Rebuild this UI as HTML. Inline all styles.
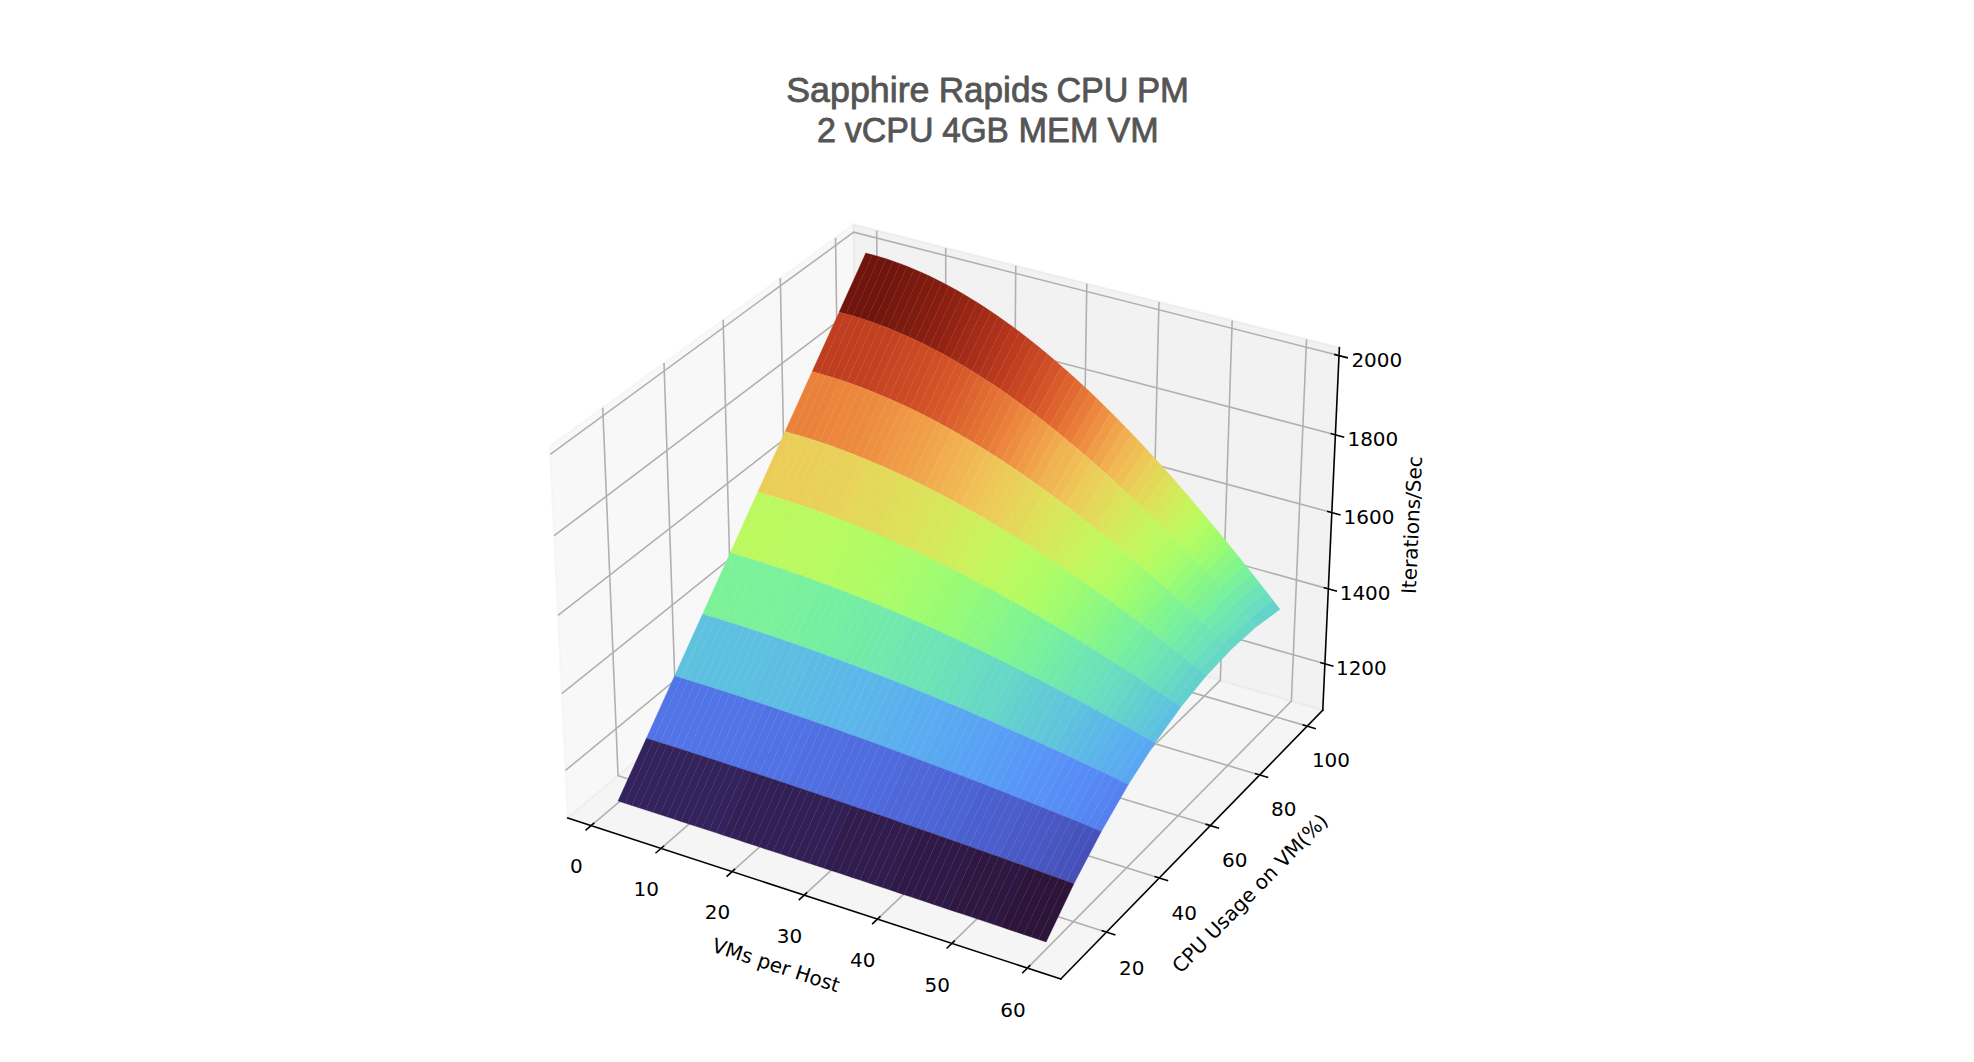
<!DOCTYPE html>
<html><head><meta charset="utf-8"><title>Sapphire Rapids CPU PM</title>
<style>html,body{margin:0;padding:0;background:#fff;overflow:hidden}svg{display:block}</style></head>
<body><svg width="1974" height="1062" viewBox="0 0 1974 1062">
<rect width="1974" height="1062" fill="#fff"/>
<g font-family="'Liberation Sans',sans-serif" font-size="35" fill="#555" stroke="#555" stroke-width="0.8" stroke-linejoin="round">
<text y="101.7"><tspan x="786.26" textLength="143.28" lengthAdjust="spacingAndGlyphs">Sapphire</tspan> <tspan x="938.79" textLength="109.16" lengthAdjust="spacingAndGlyphs">Rapids</tspan> <tspan x="1056.44" textLength="72.09" lengthAdjust="spacingAndGlyphs">CPU</tspan> <tspan x="1136.92" textLength="52.05" lengthAdjust="spacingAndGlyphs">PM</tspan></text>
<text y="141.8"><tspan x="816.95" textLength="18.98" lengthAdjust="spacingAndGlyphs">2</tspan> <tspan x="844.7" textLength="88.82" lengthAdjust="spacingAndGlyphs">vCPU</tspan> <tspan x="942.14" textLength="66.71" lengthAdjust="spacingAndGlyphs">4GB</tspan> <tspan x="1018.56" textLength="79.93" lengthAdjust="spacingAndGlyphs">MEM</tspan> <tspan x="1107.4" textLength="51.22" lengthAdjust="spacingAndGlyphs">VM</tspan></text></g>
<g id="panes">
<polygon points="567.76,817.95 857.64,574.97 853.61,224.55 549.86,446.21" fill="#f2f2f2" fill-opacity="0.5" stroke="#f2f2f2" stroke-opacity="0.5" stroke-width="1.98" stroke-linejoin="miter"/>
<polygon points="857.64,574.97 1322.78,710.17 1339.38,347.68 853.61,224.55" fill="#e6e6e6" fill-opacity="0.5" stroke="#e6e6e6" stroke-opacity="0.5" stroke-width="1.98" stroke-linejoin="miter"/>
<polygon points="567.76,817.95 1060.84,978.99 1322.78,710.17 857.64,574.97" fill="#ececec" fill-opacity="0.5" stroke="#ececec" stroke-opacity="0.5" stroke-width="1.98" stroke-linejoin="miter"/>
</g>
<g id="axl" stroke="#000" stroke-width="1.58" stroke-linecap="square" fill="none"><line x1="567.76" y1="817.95" x2="1060.84" y2="978.99"/><line x1="1322.78" y1="710.17" x2="1060.84" y2="978.99"/><line x1="1322.78" y1="710.17" x2="1339.38" y2="347.68"/></g>
<g id="grid" stroke="#b0b0b0" stroke-width="1.58" fill="none" stroke-linejoin="miter"><polyline points="591.15,825.59 879.8,581.41 876.7,230.4"/><polyline points="661.08,848.42 945.98,600.65 945.71,247.9"/><polyline points="732.08,871.61 1013.11,620.16 1015.74,265.65"/><polyline points="804.19,895.17 1081.19,639.95 1086.82,283.66"/><polyline points="877.43,919.09 1150.25,660.02 1158.95,301.95"/><polyline points="951.83,943.38 1220.3,680.38 1232.18,320.51"/><polyline points="1027.41,968.07 1291.38,701.04 1306.52,339.35"/><polyline points="602.74,407.62 618.07,775.78 1106.46,932.16"/><polyline points="663.99,362.92 676.42,726.87 1159.3,877.94"/><polyline points="723.14,319.76 732.86,679.56 1210.31,825.59"/><polyline points="780.3,278.05 787.47,633.78 1259.59,775.02"/><polyline points="835.56,237.72 840.35,589.46 1307.23,726.13"/><polyline points="1324.91,663.79 857.12,530.06 565.47,770.46"/><polyline points="1328.34,588.87 856.29,457.55 561.78,693.7"/><polyline points="1331.83,512.56 855.44,383.76 558.01,615.45"/><polyline points="1335.39,434.82 854.57,308.65 554.17,535.69"/><polyline points="1339.02,355.6 853.69,232.19 550.25,454.35"/></g>
<g id="ticks" stroke="#000" stroke-width="1.58" stroke-linecap="square"><line x1="593.67" y1="823.46" x2="586.11" y2="829.85"/><line x1="663.56" y1="846.27" x2="656.1" y2="852.75"/><line x1="734.53" y1="869.42" x2="727.17" y2="876.01"/><line x1="806.61" y1="892.94" x2="799.35" y2="899.63"/><line x1="879.81" y1="916.82" x2="872.66" y2="923.62"/><line x1="954.18" y1="941.09" x2="947.13" y2="947.99"/><line x1="1029.72" y1="965.74" x2="1022.79" y2="972.75"/><line x1="1102.35" y1="930.85" x2="1114.7" y2="934.8"/><line x1="1155.23" y1="876.67" x2="1167.44" y2="880.49"/><line x1="1206.3" y1="824.36" x2="1218.35" y2="828.05"/><line x1="1255.62" y1="773.83" x2="1267.53" y2="777.39"/><line x1="1303.31" y1="724.98" x2="1315.08" y2="728.43"/><line x1="1320.98" y1="662.67" x2="1332.77" y2="666.04"/><line x1="1324.37" y1="587.77" x2="1336.28" y2="591.08"/><line x1="1327.83" y1="511.48" x2="1339.85" y2="514.73"/><line x1="1331.35" y1="433.76" x2="1343.49" y2="436.94"/><line x1="1334.94" y1="354.56" x2="1347.19" y2="357.68"/></g>
<g id="txt" font-family="'DejaVu Sans','Liberation Sans',sans-serif" font-size="20" fill="#000" text-anchor="middle"><text transform="translate(775.66,966.52) rotate(18.09)" y="5.52">VMs per Host</text><text x="576.37" y="872.8">0</text><text x="646.34" y="895.92">10</text><text x="717.39" y="919.41">20</text><text x="789.55" y="943.26">30</text><text x="862.84" y="967.49">40</text><text x="937.29" y="992.1">50</text><text x="1012.94" y="1017.1">60</text><text transform="translate(1251.03,894.37) rotate(-45.74)" y="5.52">CPU Usage on VM(%)</text><text x="1131.83" y="974.66">20</text><text x="1184.24" y="919.96">40</text><text x="1234.84" y="867.15">60</text><text x="1283.72" y="816.12">80</text><text x="1330.97" y="766.81">100</text><text transform="translate(1413.32,525.16) rotate(-87.38)" y="5.52">Iterations/Sec</text><text x="1361.37" y="674.88">1200</text><text x="1365.13" y="600.05">1400</text><text x="1368.96" y="523.83">1600</text><text x="1372.86" y="446.18">1800</text><text x="1376.83" y="367.07">2000</text></g>
<g id="surf" stroke-width="0.3" stroke-linejoin="round"><polygon points="839,312.13 845.89,313.94 872.58,254.85 865.7,253.09" fill="#70150d" stroke="#70150d"/>
<polygon points="845.89,313.94 852.8,315.87 879.48,256.75 872.58,254.85" fill="#70150d" stroke="#70150d"/>
<polygon points="852.8,315.87 859.71,317.96 886.39,258.86 879.48,256.75" fill="#70150d" stroke="#70150d"/>
<polygon points="859.71,317.96 866.64,320.21 893.3,261.15 886.39,258.86" fill="#70150d" stroke="#70150d"/>
<polygon points="866.64,320.21 873.57,322.6 900.23,263.64 893.3,261.15" fill="#70150d" stroke="#70150d"/>
<polygon points="873.57,322.6 880.52,325.15 907.17,266.3 900.23,263.64" fill="#73170e" stroke="#73170e"/>
<polygon points="880.52,325.15 887.48,327.83 914.12,269.14 907.17,266.3" fill="#76180e" stroke="#76180e"/>
<polygon points="887.48,327.83 894.44,330.67 921.08,272.16 914.12,269.14" fill="#79190f" stroke="#79190f"/>
<polygon points="894.44,330.67 901.42,333.64 928.04,275.35 921.08,272.16" fill="#7c1a0f" stroke="#7c1a0f"/>
<polygon points="901.42,333.64 908.41,336.75 935.02,278.71 928.04,275.35" fill="#7f1c10" stroke="#7f1c10"/>
<polygon points="908.41,336.75 915.4,339.99 942,282.24 935.02,278.71" fill="#821d10" stroke="#821d10"/>
<polygon points="915.4,339.99 922.4,343.37 948.99,285.94 942,282.24" fill="#851e11" stroke="#851e11"/>
<polygon points="922.4,343.37 929.41,346.89 955.99,289.8 948.99,285.94" fill="#8b2012" stroke="#8b2012"/>
<polygon points="929.41,346.89 936.43,350.54 962.99,293.82 955.99,289.8" fill="#8e2112" stroke="#8e2112"/>
<polygon points="936.43,350.54 943.46,354.32 970,298 962.99,293.82" fill="#932414" stroke="#932414"/>
<polygon points="943.46,354.32 950.49,358.22 977.02,302.34 970,298" fill="#992615" stroke="#992615"/>
<polygon points="950.49,358.22 957.53,362.26 984.04,306.84 977.02,302.34" fill="#9e2916" stroke="#9e2916"/>
<polygon points="957.53,362.26 964.58,366.43 991.06,311.49 984.04,306.84" fill="#a32b17" stroke="#a32b17"/>
<polygon points="964.58,366.43 971.64,370.71 998.1,316.3 991.06,311.49" fill="#a82e18" stroke="#a82e18"/>
<polygon points="971.64,370.71 978.7,375.13 1005.13,321.26 998.1,316.3" fill="#ad311a" stroke="#ad311a"/>
<polygon points="978.7,375.13 985.76,379.66 1012.17,326.37 1005.13,321.26" fill="#b1341b" stroke="#b1341b"/>
<polygon points="985.76,379.66 992.83,384.32 1019.22,331.62 1012.17,326.37" fill="#b8381d" stroke="#b8381d"/>
<polygon points="992.83,384.32 999.91,389.1 1026.26,337.02 1019.22,331.62" fill="#bc3b1e" stroke="#bc3b1e"/>
<polygon points="999.91,389.1 1006.99,393.99 1033.32,342.57 1026.26,337.02" fill="#c14020" stroke="#c14020"/>
<polygon points="1006.99,393.99 1014.08,399.01 1040.37,348.25 1033.32,342.57" fill="#c74522" stroke="#c74522"/>
<polygon points="1014.08,399.01 1021.17,404.14 1047.43,354.08 1040.37,348.25" fill="#ca4824" stroke="#ca4824"/>
<polygon points="1021.17,404.14 1028.26,409.38 1054.48,360.04 1047.43,354.08" fill="#cf4e26" stroke="#cf4e26"/>
<polygon points="1028.26,409.38 1035.36,414.73 1061.54,366.14 1054.48,360.04" fill="#d45328" stroke="#d45328"/>
<polygon points="1035.36,414.73 1042.46,420.2 1068.61,372.37 1061.54,366.14" fill="#d95b2b" stroke="#d95b2b"/>
<polygon points="1042.46,420.2 1049.56,425.77 1075.67,378.74 1068.61,372.37" fill="#dd622e" stroke="#dd622e"/>
<polygon points="1049.56,425.77 1056.67,431.46 1082.73,385.23 1075.67,378.74" fill="#e16a31" stroke="#e16a31"/>
<polygon points="1056.67,431.46 1063.78,437.25 1089.8,391.85 1082.73,385.23" fill="#e57435" stroke="#e57435"/>
<polygon points="1063.78,437.25 1070.9,443.14 1096.87,398.59 1089.8,391.85" fill="#e87c38" stroke="#e87c38"/>
<polygon points="1070.9,443.14 1078.01,449.14 1103.93,405.46 1096.87,398.59" fill="#ec873d" stroke="#ec873d"/>
<polygon points="1078.01,449.14 1085.13,455.23 1111,412.44 1103.93,405.46" fill="#ee9041" stroke="#ee9041"/>
<polygon points="1085.13,455.23 1092.25,461.43 1118.06,419.54 1111,412.44" fill="#f09b46" stroke="#f09b46"/>
<polygon points="1092.25,461.43 1099.37,467.73 1125.13,426.76 1118.06,419.54" fill="#f1a54b" stroke="#f1a54b"/>
<polygon points="1099.37,467.73 1106.5,474.12 1132.19,434.09 1125.13,426.76" fill="#f1af4f" stroke="#f1af4f"/>
<polygon points="1106.5,474.12 1113.62,480.6 1139.25,441.53 1132.19,434.09" fill="#f1b952" stroke="#f1b952"/>
<polygon points="1113.62,480.6 1120.75,487.18 1146.31,449.08 1139.25,441.53" fill="#efc155" stroke="#efc155"/>
<polygon points="1120.75,487.18 1127.88,493.84 1153.37,456.73 1146.31,449.08" fill="#edc957" stroke="#edc957"/>
<polygon points="1127.88,493.84 1135,500.6 1160.43,464.48 1153.37,456.73" fill="#e8d258" stroke="#e8d258"/>
<polygon points="1135,500.6 1142.13,507.44 1167.49,472.34 1160.43,464.48" fill="#e3d959" stroke="#e3d959"/>
<polygon points="1142.13,507.44 1149.26,514.37 1174.54,480.29 1167.49,472.34" fill="#dee059" stroke="#dee059"/>
<polygon points="1149.26,514.37 1156.39,521.37 1181.59,488.33 1174.54,480.29" fill="#d6e85a" stroke="#d6e85a"/>
<polygon points="1156.39,521.37 1163.52,528.46 1188.64,496.47 1181.59,488.33" fill="#d0ed5a" stroke="#d0ed5a"/>
<polygon points="1163.52,528.46 1170.65,535.63 1195.69,504.69 1188.64,496.47" fill="#c7f35c" stroke="#c7f35c"/>
<polygon points="1170.65,535.63 1177.77,542.87 1202.74,513 1195.69,504.69" fill="#bff85e" stroke="#bff85e"/>
<polygon points="1177.77,542.87 1184.9,550.19 1209.78,521.39 1202.74,513" fill="#b6fb61" stroke="#b6fb61"/>
<polygon points="1184.9,550.19 1192.03,557.58 1216.82,529.87 1209.78,521.39" fill="#aefc65" stroke="#aefc65"/>
<polygon points="1192.03,557.58 1199.16,565.04 1223.85,538.42 1216.82,529.87" fill="#a3fc6c" stroke="#a3fc6c"/>
<polygon points="1199.16,565.04 1206.28,572.57 1230.88,547.04 1223.85,538.42" fill="#97fb75" stroke="#97fb75"/>
<polygon points="1206.28,572.57 1213.41,580.17 1237.91,555.74 1230.88,547.04" fill="#8cf881" stroke="#8cf881"/>
<polygon points="1213.41,580.17 1220.53,587.82 1244.94,564.51 1237.91,555.74" fill="#82f58d" stroke="#82f58d"/>
<polygon points="1220.53,587.82 1227.65,595.54 1251.96,573.34 1244.94,564.51" fill="#7af19a" stroke="#7af19a"/>
<polygon points="1227.65,595.54 1234.78,603.32 1258.98,582.23 1251.96,573.34" fill="#73eba7" stroke="#73eba7"/>
<polygon points="1234.78,603.32 1241.9,611.16 1265.99,591.18 1258.98,582.23" fill="#6de4b5" stroke="#6de4b5"/>
<polygon points="1241.9,611.16 1249.02,619.05 1273,600.19 1265.99,591.18" fill="#68ddbf" stroke="#68ddbf"/>
<polygon points="1249.02,619.05 1256.13,626.99 1280.01,609.25 1273,600.19" fill="#64d4ca" stroke="#64d4ca"/>
<polygon points="812.11,371.62 819,373.48 845.89,313.94 839,312.13" fill="#c03e20" stroke="#c03e20"/>
<polygon points="819,373.48 825.91,375.44 852.8,315.87 845.89,313.94" fill="#c03e20" stroke="#c03e20"/>
<polygon points="825.91,375.44 832.83,377.52 859.71,317.96 852.8,315.87" fill="#c03e20" stroke="#c03e20"/>
<polygon points="832.83,377.52 839.77,379.73 866.64,320.21 859.71,317.96" fill="#c03e20" stroke="#c03e20"/>
<polygon points="839.77,379.73 846.71,382.05 873.57,322.6 866.64,320.21" fill="#c14020" stroke="#c14020"/>
<polygon points="846.71,382.05 853.66,384.5 880.52,325.15 873.57,322.6" fill="#c14020" stroke="#c14020"/>
<polygon points="853.66,384.5 860.63,387.05 887.48,327.83 880.52,325.15" fill="#c34121" stroke="#c34121"/>
<polygon points="860.63,387.05 867.6,389.72 894.44,330.67 887.48,327.83" fill="#c34121" stroke="#c34121"/>
<polygon points="867.6,389.72 874.59,392.51 901.42,333.64 894.44,330.67" fill="#c54322" stroke="#c54322"/>
<polygon points="874.59,392.51 881.58,395.4 908.41,336.75 901.42,333.64" fill="#c74522" stroke="#c74522"/>
<polygon points="881.58,395.4 888.59,398.4 915.4,339.99 908.41,336.75" fill="#c94723" stroke="#c94723"/>
<polygon points="888.59,398.4 895.6,401.51 922.4,343.37 915.4,339.99" fill="#ca4824" stroke="#ca4824"/>
<polygon points="895.6,401.51 902.63,404.72 929.41,346.89 922.4,343.37" fill="#cc4a24" stroke="#cc4a24"/>
<polygon points="902.63,404.72 909.66,408.04 936.43,350.54 929.41,346.89" fill="#ce4c25" stroke="#ce4c25"/>
<polygon points="909.66,408.04 916.7,411.47 943.46,354.32 936.43,350.54" fill="#d14f26" stroke="#d14f26"/>
<polygon points="916.7,411.47 923.75,414.99 950.49,358.22 943.46,354.32" fill="#d25127" stroke="#d25127"/>
<polygon points="923.75,414.99 930.8,418.62 957.53,362.26 950.49,358.22" fill="#d55528" stroke="#d55528"/>
<polygon points="930.8,418.62 937.87,422.35 964.58,366.43 957.53,362.26" fill="#d75729" stroke="#d75729"/>
<polygon points="937.87,422.35 944.94,426.19 971.64,370.71 964.58,366.43" fill="#d95b2b" stroke="#d95b2b"/>
<polygon points="944.94,426.19 952.02,430.12 978.7,375.13 971.64,370.71" fill="#dc602d" stroke="#dc602d"/>
<polygon points="952.02,430.12 959.1,434.15 985.76,379.66 978.7,375.13" fill="#df652f" stroke="#df652f"/>
<polygon points="959.1,434.15 966.2,438.27 992.83,384.32 985.76,379.66" fill="#e16a31" stroke="#e16a31"/>
<polygon points="966.2,438.27 973.3,442.5 999.91,389.1 992.83,384.32" fill="#e36f33" stroke="#e36f33"/>
<polygon points="973.3,442.5 980.4,446.82 1006.99,393.99 999.91,389.1" fill="#e57435" stroke="#e57435"/>
<polygon points="980.4,446.82 987.52,451.23 1014.08,399.01 1006.99,393.99" fill="#e77937" stroke="#e77937"/>
<polygon points="987.52,451.23 994.63,455.74 1021.17,404.14 1014.08,399.01" fill="#e97f3a" stroke="#e97f3a"/>
<polygon points="994.63,455.74 1001.76,460.34 1028.26,409.38 1021.17,404.14" fill="#ec873d" stroke="#ec873d"/>
<polygon points="1001.76,460.34 1008.89,465.03 1035.36,414.73 1028.26,409.38" fill="#ed8d40" stroke="#ed8d40"/>
<polygon points="1008.89,465.03 1016.02,469.81 1042.46,420.2 1035.36,414.73" fill="#ef9543" stroke="#ef9543"/>
<polygon points="1016.02,469.81 1023.16,474.68 1049.56,425.77 1042.46,420.2" fill="#f09b46" stroke="#f09b46"/>
<polygon points="1023.16,474.68 1030.31,479.64 1056.67,431.46 1049.56,425.77" fill="#f1a349" stroke="#f1a349"/>
<polygon points="1030.31,479.64 1037.46,484.68 1063.78,437.25 1056.67,431.46" fill="#f1ab4d" stroke="#f1ab4d"/>
<polygon points="1037.46,484.68 1044.61,489.81 1070.9,443.14 1063.78,437.25" fill="#f1b250" stroke="#f1b250"/>
<polygon points="1044.61,489.81 1051.77,495.02 1078.01,449.14 1070.9,443.14" fill="#f1b652" stroke="#f1b652"/>
<polygon points="1051.77,495.02 1058.93,500.32 1085.13,455.23 1078.01,449.14" fill="#f0bd54" stroke="#f0bd54"/>
<polygon points="1058.93,500.32 1066.1,505.7 1092.25,461.43 1085.13,455.23" fill="#efc356" stroke="#efc356"/>
<polygon points="1066.1,505.7 1073.27,511.16 1099.37,467.73 1092.25,461.43" fill="#eccb57" stroke="#eccb57"/>
<polygon points="1073.27,511.16 1080.45,516.7 1106.5,474.12 1099.37,467.73" fill="#e9d058" stroke="#e9d058"/>
<polygon points="1080.45,516.7 1087.63,522.32 1113.62,480.6 1106.5,474.12" fill="#e6d659" stroke="#e6d659"/>
<polygon points="1087.63,522.32 1094.81,528.01 1120.75,487.18 1113.62,480.6" fill="#e2db59" stroke="#e2db59"/>
<polygon points="1094.81,528.01 1101.99,533.78 1127.88,493.84 1120.75,487.18" fill="#dce259" stroke="#dce259"/>
<polygon points="1101.99,533.78 1109.18,539.63 1135,500.6 1127.88,493.84" fill="#d8e75a" stroke="#d8e75a"/>
<polygon points="1109.18,539.63 1116.37,545.55 1142.13,507.44 1135,500.6" fill="#d1ec5a" stroke="#d1ec5a"/>
<polygon points="1116.37,545.55 1123.56,551.54 1149.26,514.37 1142.13,507.44" fill="#ccf05b" stroke="#ccf05b"/>
<polygon points="1123.56,551.54 1130.76,557.6 1156.39,521.37 1149.26,514.37" fill="#c6f45c" stroke="#c6f45c"/>
<polygon points="1130.76,557.6 1137.95,563.73 1163.52,528.46 1156.39,521.37" fill="#bff85e" stroke="#bff85e"/>
<polygon points="1137.95,563.73 1145.15,569.92 1170.65,535.63 1163.52,528.46" fill="#bafa60" stroke="#bafa60"/>
<polygon points="1145.15,569.92 1152.35,576.19 1177.77,542.87 1170.65,535.63" fill="#b3fb63" stroke="#b3fb63"/>
<polygon points="1152.35,576.19 1159.56,582.51 1184.9,550.19 1177.77,542.87" fill="#aafc68" stroke="#aafc68"/>
<polygon points="1159.56,582.51 1166.76,588.9 1192.03,557.58 1184.9,550.19" fill="#a1fc6e" stroke="#a1fc6e"/>
<polygon points="1166.76,588.9 1173.97,595.35 1199.16,565.04 1192.03,557.58" fill="#97fb75" stroke="#97fb75"/>
<polygon points="1173.97,595.35 1181.18,601.87 1206.28,572.57 1199.16,565.04" fill="#8ef97e" stroke="#8ef97e"/>
<polygon points="1181.18,601.87 1188.39,608.44 1213.41,580.17 1206.28,572.57" fill="#86f688" stroke="#86f688"/>
<polygon points="1188.39,608.44 1195.6,615.06 1220.53,587.82 1213.41,580.17" fill="#7ff392" stroke="#7ff392"/>
<polygon points="1195.6,615.06 1202.82,621.75 1227.65,595.54 1220.53,587.82" fill="#78f09d" stroke="#78f09d"/>
<polygon points="1202.82,621.75 1210.03,628.48 1234.78,603.32 1227.65,595.54" fill="#72eaaa" stroke="#72eaaa"/>
<polygon points="1210.03,628.48 1217.25,635.27 1241.9,611.16 1234.78,603.32" fill="#6ee5b3" stroke="#6ee5b3"/>
<polygon points="1217.25,635.27 1224.46,642.11 1249.02,619.05 1241.9,611.16" fill="#6ae0bb" stroke="#6ae0bb"/>
<polygon points="1224.46,642.11 1231.68,649 1256.13,626.99 1249.02,619.05" fill="#66d8c5" stroke="#66d8c5"/>
<polygon points="785.01,431.56 791.91,433.48 819,373.48 812.11,371.62" fill="#ea823b" stroke="#ea823b"/>
<polygon points="791.91,433.48 798.83,435.46 825.91,375.44 819,373.48" fill="#ea823b" stroke="#ea823b"/>
<polygon points="798.83,435.46 805.75,437.55 832.83,377.52 825.91,375.44" fill="#ea823b" stroke="#ea823b"/>
<polygon points="805.75,437.55 812.69,439.73 839.77,379.73 832.83,377.52" fill="#ea823b" stroke="#ea823b"/>
<polygon points="812.69,439.73 819.64,442 846.71,382.05 839.77,379.73" fill="#eb853c" stroke="#eb853c"/>
<polygon points="819.64,442 826.6,444.36 853.66,384.5 846.71,382.05" fill="#eb853c" stroke="#eb853c"/>
<polygon points="826.6,444.36 833.57,446.81 860.63,387.05 853.66,384.5" fill="#ec873d" stroke="#ec873d"/>
<polygon points="833.57,446.81 840.56,449.35 867.6,389.72 860.63,387.05" fill="#ec873d" stroke="#ec873d"/>
<polygon points="840.56,449.35 847.55,451.97 874.59,392.51 867.6,389.72" fill="#ec8a3e" stroke="#ec8a3e"/>
<polygon points="847.55,451.97 854.55,454.67 881.58,395.4 874.59,392.51" fill="#ec8a3e" stroke="#ec8a3e"/>
<polygon points="854.55,454.67 861.56,457.47 888.59,398.4 881.58,395.4" fill="#ed8d40" stroke="#ed8d40"/>
<polygon points="861.56,457.47 868.59,460.34 895.6,401.51 888.59,398.4" fill="#ee9041" stroke="#ee9041"/>
<polygon points="868.59,460.34 875.62,463.3 902.63,404.72 895.6,401.51" fill="#ee9242" stroke="#ee9242"/>
<polygon points="875.62,463.3 882.66,466.33 909.66,408.04 902.63,404.72" fill="#ef9543" stroke="#ef9543"/>
<polygon points="882.66,466.33 889.71,469.45 916.7,411.47 909.66,408.04" fill="#ef9845" stroke="#ef9845"/>
<polygon points="889.71,469.45 896.77,472.65 923.75,414.99 916.7,411.47" fill="#f09b46" stroke="#f09b46"/>
<polygon points="896.77,472.65 903.84,475.93 930.8,418.62 923.75,414.99" fill="#f09d47" stroke="#f09d47"/>
<polygon points="903.84,475.93 910.92,479.29 937.87,422.35 930.8,418.62" fill="#f0a048" stroke="#f0a048"/>
<polygon points="910.92,479.29 918.01,482.72 944.94,426.19 937.87,422.35" fill="#f1a54b" stroke="#f1a54b"/>
<polygon points="918.01,482.72 925.1,486.23 952.02,430.12 944.94,426.19" fill="#f1a84c" stroke="#f1a84c"/>
<polygon points="925.1,486.23 932.2,489.82 959.1,434.15 952.02,430.12" fill="#f1ad4e" stroke="#f1ad4e"/>
<polygon points="932.2,489.82 939.32,493.49 966.2,438.27 959.1,434.15" fill="#f1af4f" stroke="#f1af4f"/>
<polygon points="939.32,493.49 946.43,497.23 973.3,442.5 966.2,438.27" fill="#f1b451" stroke="#f1b451"/>
<polygon points="946.43,497.23 953.56,501.04 980.4,446.82 973.3,442.5" fill="#f1b652" stroke="#f1b652"/>
<polygon points="953.56,501.04 960.7,504.93 987.52,451.23 980.4,446.82" fill="#f1bb53" stroke="#f1bb53"/>
<polygon points="960.7,504.93 967.84,508.9 994.63,455.74 987.52,451.23" fill="#f0bf55" stroke="#f0bf55"/>
<polygon points="967.84,508.9 974.99,512.93 1001.76,460.34 994.63,455.74" fill="#efc356" stroke="#efc356"/>
<polygon points="974.99,512.93 982.14,517.04 1008.89,465.03 1001.76,460.34" fill="#edc757" stroke="#edc757"/>
<polygon points="982.14,517.04 989.3,521.22 1016.02,469.81 1008.89,465.03" fill="#eccb57" stroke="#eccb57"/>
<polygon points="989.3,521.22 996.47,525.46 1023.16,474.68 1016.02,469.81" fill="#eace58" stroke="#eace58"/>
<polygon points="996.47,525.46 1003.65,529.78 1030.31,479.64 1023.16,474.68" fill="#e8d258" stroke="#e8d258"/>
<polygon points="1003.65,529.78 1010.83,534.17 1037.46,484.68 1030.31,479.64" fill="#e6d659" stroke="#e6d659"/>
<polygon points="1010.83,534.17 1018.02,538.62 1044.61,489.81 1037.46,484.68" fill="#e3d959" stroke="#e3d959"/>
<polygon points="1018.02,538.62 1025.21,543.15 1051.77,495.02 1044.61,489.81" fill="#dfdf59" stroke="#dfdf59"/>
<polygon points="1025.21,543.15 1032.41,547.73 1058.93,500.32 1051.77,495.02" fill="#dce259" stroke="#dce259"/>
<polygon points="1032.41,547.73 1039.62,552.39 1066.1,505.7 1058.93,500.32" fill="#d9e55a" stroke="#d9e55a"/>
<polygon points="1039.62,552.39 1046.83,557.11 1073.27,511.16 1066.1,505.7" fill="#d5e95a" stroke="#d5e95a"/>
<polygon points="1046.83,557.11 1054.05,561.89 1080.45,516.7 1073.27,511.16" fill="#d1ec5a" stroke="#d1ec5a"/>
<polygon points="1054.05,561.89 1061.27,566.74 1087.63,522.32 1080.45,516.7" fill="#ccf05b" stroke="#ccf05b"/>
<polygon points="1061.27,566.74 1068.5,571.65 1094.81,528.01 1087.63,522.32" fill="#c9f25b" stroke="#c9f25b"/>
<polygon points="1068.5,571.65 1075.73,576.62 1101.99,533.78 1094.81,528.01" fill="#c4f55c" stroke="#c4f55c"/>
<polygon points="1075.73,576.62 1082.97,581.65 1109.18,539.63 1101.99,533.78" fill="#bff85e" stroke="#bff85e"/>
<polygon points="1082.97,581.65 1090.21,586.74 1116.37,545.55 1109.18,539.63" fill="#bafa60" stroke="#bafa60"/>
<polygon points="1090.21,586.74 1097.46,591.89 1123.56,551.54 1116.37,545.55" fill="#b6fb61" stroke="#b6fb61"/>
<polygon points="1097.46,591.89 1104.71,597.09 1130.76,557.6 1123.56,551.54" fill="#b1fc64" stroke="#b1fc64"/>
<polygon points="1104.71,597.09 1111.97,602.36 1137.95,563.73 1130.76,557.6" fill="#aafc68" stroke="#aafc68"/>
<polygon points="1111.97,602.36 1119.23,607.68 1145.15,569.92 1137.95,563.73" fill="#a3fc6c" stroke="#a3fc6c"/>
<polygon points="1119.23,607.68 1126.5,613.05 1152.35,576.19 1145.15,569.92" fill="#9cfb71" stroke="#9cfb71"/>
<polygon points="1126.5,613.05 1133.77,618.48 1159.56,582.51 1152.35,576.19" fill="#95fa78" stroke="#95fa78"/>
<polygon points="1133.77,618.48 1141.04,623.96 1166.76,588.9 1159.56,582.51" fill="#8ef97e" stroke="#8ef97e"/>
<polygon points="1141.04,623.96 1148.32,629.5 1173.97,595.35 1166.76,588.9" fill="#86f688" stroke="#86f688"/>
<polygon points="1148.32,629.5 1155.6,635.08 1181.18,601.87 1173.97,595.35" fill="#80f490" stroke="#80f490"/>
<polygon points="1155.6,635.08 1162.88,640.72 1188.39,608.44 1181.18,601.87" fill="#7bf298" stroke="#7bf298"/>
<polygon points="1162.88,640.72 1170.17,646.4 1195.6,615.06 1188.39,608.44" fill="#77efa0" stroke="#77efa0"/>
<polygon points="1170.17,646.4 1177.46,652.13 1202.82,621.75 1195.6,615.06" fill="#72eaaa" stroke="#72eaaa"/>
<polygon points="1177.46,652.13 1184.76,657.91 1210.03,628.48 1202.82,621.75" fill="#6fe6b1" stroke="#6fe6b1"/>
<polygon points="1184.76,657.91 1192.05,663.74 1217.25,635.27 1210.03,628.48" fill="#6ce3b7" stroke="#6ce3b7"/>
<polygon points="1192.05,663.74 1199.36,669.61 1224.46,642.11 1217.25,635.27" fill="#68ddbf" stroke="#68ddbf"/>
<polygon points="1199.36,669.61 1206.66,675.52 1231.68,649 1224.46,642.11" fill="#66d8c5" stroke="#66d8c5"/>
<polygon points="757.7,491.96 764.61,493.93 791.91,433.48 785.01,431.56" fill="#ebcc58" stroke="#ebcc58"/>
<polygon points="764.61,493.93 771.53,495.95 798.83,435.46 791.91,433.48" fill="#eace58" stroke="#eace58"/>
<polygon points="771.53,495.95 778.46,498.04 805.75,437.55 798.83,435.46" fill="#eace58" stroke="#eace58"/>
<polygon points="778.46,498.04 785.41,500.21 812.69,439.73 805.75,437.55" fill="#eace58" stroke="#eace58"/>
<polygon points="785.41,500.21 792.36,502.44 819.64,442 812.69,439.73" fill="#eace58" stroke="#eace58"/>
<polygon points="792.36,502.44 799.33,504.74 826.6,444.36 819.64,442" fill="#eace58" stroke="#eace58"/>
<polygon points="799.33,504.74 806.31,507.1 833.57,446.81 826.6,444.36" fill="#e9d058" stroke="#e9d058"/>
<polygon points="806.31,507.1 813.29,509.53 840.56,449.35 833.57,446.81" fill="#e9d058" stroke="#e9d058"/>
<polygon points="813.29,509.53 820.29,512.02 847.55,451.97 840.56,449.35" fill="#e9d058" stroke="#e9d058"/>
<polygon points="820.29,512.02 827.3,514.58 854.55,454.67 847.55,451.97" fill="#e8d258" stroke="#e8d258"/>
<polygon points="827.3,514.58 834.32,517.2 861.56,457.47 854.55,454.67" fill="#e8d258" stroke="#e8d258"/>
<polygon points="834.32,517.2 841.35,519.88 868.59,460.34 861.56,457.47" fill="#e7d459" stroke="#e7d459"/>
<polygon points="841.35,519.88 848.39,522.62 875.62,463.3 868.59,460.34" fill="#e6d659" stroke="#e6d659"/>
<polygon points="848.39,522.62 855.44,525.42 882.66,466.33 875.62,463.3" fill="#e4d859" stroke="#e4d859"/>
<polygon points="855.44,525.42 862.51,528.28 889.71,469.45 882.66,466.33" fill="#e4d859" stroke="#e4d859"/>
<polygon points="862.51,528.28 869.57,531.2 896.77,472.65 889.71,469.45" fill="#e3d959" stroke="#e3d959"/>
<polygon points="869.57,531.2 876.65,534.19 903.84,475.93 896.77,472.65" fill="#e2db59" stroke="#e2db59"/>
<polygon points="876.65,534.19 883.74,537.23 910.92,479.29 903.84,475.93" fill="#e0dd59" stroke="#e0dd59"/>
<polygon points="883.74,537.23 890.84,540.33 918.01,482.72 910.92,479.29" fill="#dfdf59" stroke="#dfdf59"/>
<polygon points="890.84,540.33 897.95,543.48 925.1,486.23 918.01,482.72" fill="#dee059" stroke="#dee059"/>
<polygon points="897.95,543.48 905.07,546.7 932.2,489.82 925.1,486.23" fill="#dce259" stroke="#dce259"/>
<polygon points="905.07,546.7 912.19,549.97 939.32,493.49 932.2,489.82" fill="#dbe35a" stroke="#dbe35a"/>
<polygon points="912.19,549.97 919.33,553.3 946.43,497.23 939.32,493.49" fill="#d8e75a" stroke="#d8e75a"/>
<polygon points="919.33,553.3 926.47,556.68 953.56,501.04 946.43,497.23" fill="#d6e85a" stroke="#d6e85a"/>
<polygon points="926.47,556.68 933.62,560.12 960.7,504.93 953.56,501.04" fill="#d5e95a" stroke="#d5e95a"/>
<polygon points="933.62,560.12 940.78,563.62 967.84,508.9 960.7,504.93" fill="#d3eb5a" stroke="#d3eb5a"/>
<polygon points="940.78,563.62 947.95,567.17 974.99,512.93 967.84,508.9" fill="#d0ed5a" stroke="#d0ed5a"/>
<polygon points="947.95,567.17 955.13,570.78 982.14,517.04 974.99,512.93" fill="#ceef5b" stroke="#ceef5b"/>
<polygon points="955.13,570.78 962.31,574.44 989.3,521.22 982.14,517.04" fill="#cbf15b" stroke="#cbf15b"/>
<polygon points="962.31,574.44 969.5,578.15 996.47,525.46 989.3,521.22" fill="#c9f25b" stroke="#c9f25b"/>
<polygon points="969.5,578.15 976.7,581.92 1003.65,529.78 996.47,525.46" fill="#c6f45c" stroke="#c6f45c"/>
<polygon points="976.7,581.92 983.91,585.73 1010.83,534.17 1003.65,529.78" fill="#c2f65d" stroke="#c2f65d"/>
<polygon points="983.91,585.73 991.13,589.61 1018.02,538.62 1010.83,534.17" fill="#c1f75d" stroke="#c1f75d"/>
<polygon points="991.13,589.61 998.35,593.53 1025.21,543.15 1018.02,538.62" fill="#bdf85e" stroke="#bdf85e"/>
<polygon points="998.35,593.53 1005.58,597.5 1032.41,547.73 1025.21,543.15" fill="#bafa60" stroke="#bafa60"/>
<polygon points="1005.58,597.5 1012.82,601.53 1039.62,552.39 1032.41,547.73" fill="#b6fb61" stroke="#b6fb61"/>
<polygon points="1012.82,601.53 1020.07,605.6 1046.83,557.11 1039.62,552.39" fill="#b4fb62" stroke="#b4fb62"/>
<polygon points="1020.07,605.6 1027.32,609.73 1054.05,561.89 1046.83,557.11" fill="#b1fc64" stroke="#b1fc64"/>
<polygon points="1027.32,609.73 1034.58,613.9 1061.27,566.74 1054.05,561.89" fill="#acfc66" stroke="#acfc66"/>
<polygon points="1034.58,613.9 1041.85,618.12 1068.5,571.65 1061.27,566.74" fill="#a8fc69" stroke="#a8fc69"/>
<polygon points="1041.85,618.12 1049.12,622.39 1075.73,576.62 1068.5,571.65" fill="#a3fc6c" stroke="#a3fc6c"/>
<polygon points="1049.12,622.39 1056.4,626.71 1082.97,581.65 1075.73,576.62" fill="#9ffc70" stroke="#9ffc70"/>
<polygon points="1056.4,626.71 1063.69,631.07 1090.21,586.74 1082.97,581.65" fill="#9afb73" stroke="#9afb73"/>
<polygon points="1063.69,631.07 1070.98,635.48 1097.46,591.89 1090.21,586.74" fill="#93fa7a" stroke="#93fa7a"/>
<polygon points="1070.98,635.48 1078.28,639.94 1104.71,597.09 1097.46,591.89" fill="#8ef97e" stroke="#8ef97e"/>
<polygon points="1078.28,639.94 1085.59,644.44 1111.97,602.36 1104.71,597.09" fill="#8af883" stroke="#8af883"/>
<polygon points="1085.59,644.44 1092.9,648.99 1119.23,607.68 1111.97,602.36" fill="#86f688" stroke="#86f688"/>
<polygon points="1092.9,648.99 1100.22,653.58 1126.5,613.05 1119.23,607.68" fill="#80f490" stroke="#80f490"/>
<polygon points="1100.22,653.58 1107.54,658.21 1133.77,618.48 1126.5,613.05" fill="#7df295" stroke="#7df295"/>
<polygon points="1107.54,658.21 1114.87,662.89 1141.04,623.96 1133.77,618.48" fill="#7af19a" stroke="#7af19a"/>
<polygon points="1114.87,662.89 1122.21,667.61 1148.32,629.5 1141.04,623.96" fill="#75eea2" stroke="#75eea2"/>
<polygon points="1122.21,667.61 1129.55,672.37 1155.6,635.08 1148.32,629.5" fill="#73eba7" stroke="#73eba7"/>
<polygon points="1129.55,672.37 1136.9,677.17 1162.88,640.72 1155.6,635.08" fill="#70e8ae" stroke="#70e8ae"/>
<polygon points="1136.9,677.17 1144.25,682.01 1170.17,646.4 1162.88,640.72" fill="#6ee5b3" stroke="#6ee5b3"/>
<polygon points="1144.25,682.01 1151.61,686.89 1177.46,652.13 1170.17,646.4" fill="#6be1b9" stroke="#6be1b9"/>
<polygon points="1151.61,686.89 1158.97,691.81 1184.76,657.91 1177.46,652.13" fill="#69debd" stroke="#69debd"/>
<polygon points="1158.97,691.81 1166.34,696.77 1192.05,663.74 1184.76,657.91" fill="#67d9c3" stroke="#67d9c3"/>
<polygon points="1166.34,696.77 1173.72,701.76 1199.36,669.61 1192.05,663.74" fill="#64d4ca" stroke="#64d4ca"/>
<polygon points="1173.72,701.76 1181.1,706.8 1206.66,675.52 1199.36,669.61" fill="#63d0ce" stroke="#63d0ce"/>
<polygon points="730.18,552.83 737.1,554.85 764.61,493.93 757.7,491.96" fill="#bbf95f" stroke="#bbf95f"/>
<polygon points="737.1,554.85 744.02,556.91 771.53,495.95 764.61,493.93" fill="#bbf95f" stroke="#bbf95f"/>
<polygon points="744.02,556.91 750.96,559.02 778.46,498.04 771.53,495.95" fill="#bbf95f" stroke="#bbf95f"/>
<polygon points="750.96,559.02 757.91,561.17 785.41,500.21 778.46,498.04" fill="#bbf95f" stroke="#bbf95f"/>
<polygon points="757.91,561.17 764.87,563.38 792.36,502.44 785.41,500.21" fill="#bbf95f" stroke="#bbf95f"/>
<polygon points="764.87,563.38 771.84,565.64 799.33,504.74 792.36,502.44" fill="#bbf95f" stroke="#bbf95f"/>
<polygon points="771.84,565.64 778.83,567.94 806.31,507.1 799.33,504.74" fill="#bafa60" stroke="#bafa60"/>
<polygon points="778.83,567.94 785.82,570.29 813.29,509.53 806.31,507.1" fill="#bafa60" stroke="#bafa60"/>
<polygon points="785.82,570.29 792.83,572.68 820.29,512.02 813.29,509.53" fill="#bafa60" stroke="#bafa60"/>
<polygon points="792.83,572.68 799.84,575.11 827.3,514.58 820.29,512.02" fill="#b8fa60" stroke="#b8fa60"/>
<polygon points="799.84,575.11 806.87,577.6 834.32,517.2 827.3,514.58" fill="#b8fa60" stroke="#b8fa60"/>
<polygon points="806.87,577.6 813.9,580.12 841.35,519.88 834.32,517.2" fill="#b8fa60" stroke="#b8fa60"/>
<polygon points="813.9,580.12 820.95,582.69 848.39,522.62 841.35,519.88" fill="#b6fb61" stroke="#b6fb61"/>
<polygon points="820.95,582.69 828.01,585.3 855.44,525.42 848.39,522.62" fill="#b6fb61" stroke="#b6fb61"/>
<polygon points="828.01,585.3 835.08,587.96 862.51,528.28 855.44,525.42" fill="#b4fb62" stroke="#b4fb62"/>
<polygon points="835.08,587.96 842.15,590.65 869.57,531.2 862.51,528.28" fill="#b3fb63" stroke="#b3fb63"/>
<polygon points="842.15,590.65 849.24,593.39 876.65,534.19 869.57,531.2" fill="#b3fb63" stroke="#b3fb63"/>
<polygon points="849.24,593.39 856.34,596.18 883.74,537.23 876.65,534.19" fill="#b1fc64" stroke="#b1fc64"/>
<polygon points="856.34,596.18 863.45,599 890.84,540.33 883.74,537.23" fill="#aefc65" stroke="#aefc65"/>
<polygon points="863.45,599 870.56,601.87 897.95,543.48 890.84,540.33" fill="#aefc65" stroke="#aefc65"/>
<polygon points="870.56,601.87 877.69,604.77 905.07,546.7 897.95,543.48" fill="#acfc66" stroke="#acfc66"/>
<polygon points="877.69,604.77 884.83,607.72 912.19,549.97 905.07,546.7" fill="#aafc68" stroke="#aafc68"/>
<polygon points="884.83,607.72 891.98,610.71 919.33,553.3 912.19,549.97" fill="#a8fc69" stroke="#a8fc69"/>
<polygon points="891.98,610.71 899.13,613.74 926.47,556.68 919.33,553.3" fill="#a6fc6b" stroke="#a6fc6b"/>
<polygon points="899.13,613.74 906.3,616.81 933.62,560.12 926.47,556.68" fill="#a3fc6c" stroke="#a3fc6c"/>
<polygon points="906.3,616.81 913.47,619.92 940.78,563.62 933.62,560.12" fill="#a1fc6e" stroke="#a1fc6e"/>
<polygon points="913.47,619.92 920.66,623.07 947.95,567.17 940.78,563.62" fill="#9ffc70" stroke="#9ffc70"/>
<polygon points="920.66,623.07 927.85,626.25 955.13,570.78 947.95,567.17" fill="#9cfb71" stroke="#9cfb71"/>
<polygon points="927.85,626.25 935.05,629.48 962.31,574.44 955.13,570.78" fill="#9afb73" stroke="#9afb73"/>
<polygon points="935.05,629.48 942.26,632.75 969.5,578.15 962.31,574.44" fill="#97fb75" stroke="#97fb75"/>
<polygon points="942.26,632.75 949.48,636.05 976.7,581.92 969.5,578.15" fill="#95fa78" stroke="#95fa78"/>
<polygon points="949.48,636.05 956.71,639.4 983.91,585.73 976.7,581.92" fill="#93fa7a" stroke="#93fa7a"/>
<polygon points="956.71,639.4 963.95,642.78 991.13,589.61 983.91,585.73" fill="#8ef97e" stroke="#8ef97e"/>
<polygon points="963.95,642.78 971.2,646.2 998.35,593.53 991.13,589.61" fill="#8cf881" stroke="#8cf881"/>
<polygon points="971.2,646.2 978.45,649.65 1005.58,597.5 998.35,593.53" fill="#8af883" stroke="#8af883"/>
<polygon points="978.45,649.65 985.72,653.15 1012.82,601.53 1005.58,597.5" fill="#88f786" stroke="#88f786"/>
<polygon points="985.72,653.15 992.99,656.68 1020.07,605.6 1012.82,601.53" fill="#84f68b" stroke="#84f68b"/>
<polygon points="992.99,656.68 1000.27,660.25 1027.32,609.73 1020.07,605.6" fill="#82f58d" stroke="#82f58d"/>
<polygon points="1000.27,660.25 1007.56,663.85 1034.58,613.9 1027.32,609.73" fill="#80f490" stroke="#80f490"/>
<polygon points="1007.56,663.85 1014.86,667.49 1041.85,618.12 1034.58,613.9" fill="#7df295" stroke="#7df295"/>
<polygon points="1014.86,667.49 1022.17,671.17 1049.12,622.39 1041.85,618.12" fill="#7bf298" stroke="#7bf298"/>
<polygon points="1022.17,671.17 1029.48,674.88 1056.4,626.71 1049.12,622.39" fill="#78f09d" stroke="#78f09d"/>
<polygon points="1029.48,674.88 1036.8,678.62 1063.69,631.07 1056.4,626.71" fill="#77efa0" stroke="#77efa0"/>
<polygon points="1036.8,678.62 1044.13,682.4 1070.98,635.48 1063.69,631.07" fill="#74eca5" stroke="#74eca5"/>
<polygon points="1044.13,682.4 1051.47,686.22 1078.28,639.94 1070.98,635.48" fill="#72eaaa" stroke="#72eaaa"/>
<polygon points="1051.47,686.22 1058.82,690.07 1085.59,644.44 1078.28,639.94" fill="#71e9ac" stroke="#71e9ac"/>
<polygon points="1058.82,690.07 1066.17,693.95 1092.9,648.99 1085.59,644.44" fill="#6fe6b1" stroke="#6fe6b1"/>
<polygon points="1066.17,693.95 1073.54,697.87 1100.22,653.58 1092.9,648.99" fill="#6de4b5" stroke="#6de4b5"/>
<polygon points="1073.54,697.87 1080.91,701.82 1107.54,658.21 1100.22,653.58" fill="#6ce3b7" stroke="#6ce3b7"/>
<polygon points="1080.91,701.82 1088.28,705.8 1114.87,662.89 1107.54,658.21" fill="#6ae0bb" stroke="#6ae0bb"/>
<polygon points="1088.28,705.8 1095.67,709.81 1122.21,667.61 1114.87,662.89" fill="#68ddbf" stroke="#68ddbf"/>
<polygon points="1095.67,709.81 1103.06,713.86 1129.55,672.37 1122.21,667.61" fill="#68dbc1" stroke="#68dbc1"/>
<polygon points="1103.06,713.86 1110.46,717.94 1136.9,677.17 1129.55,672.37" fill="#66d8c5" stroke="#66d8c5"/>
<polygon points="1110.46,717.94 1117.87,722.05 1144.25,682.01 1136.9,677.17" fill="#64d4ca" stroke="#64d4ca"/>
<polygon points="1117.87,722.05 1125.28,726.19 1151.61,686.89 1144.25,682.01" fill="#63d0ce" stroke="#63d0ce"/>
<polygon points="1125.28,726.19 1132.71,730.36 1158.97,691.81 1151.61,686.89" fill="#61ccd3" stroke="#61ccd3"/>
<polygon points="1132.71,730.36 1140.14,734.56 1166.34,696.77 1158.97,691.81" fill="#60c8d8" stroke="#60c8d8"/>
<polygon points="1140.14,734.56 1147.57,738.79 1173.72,701.76 1166.34,696.77" fill="#5fc4dc" stroke="#5fc4dc"/>
<polygon points="1147.57,738.79 1155.02,743.05 1181.1,706.8 1173.72,701.76" fill="#5dc0e0" stroke="#5dc0e0"/>
<polygon points="702.45,614.16 709.37,616.23 737.1,554.85 730.18,552.83" fill="#7bf298" stroke="#7bf298"/>
<polygon points="709.37,616.23 716.31,618.33 744.02,556.91 737.1,554.85" fill="#7bf298" stroke="#7bf298"/>
<polygon points="716.31,618.33 723.25,620.47 750.96,559.02 744.02,556.91" fill="#7bf298" stroke="#7bf298"/>
<polygon points="723.25,620.47 730.2,622.63 757.91,561.17 750.96,559.02" fill="#7bf298" stroke="#7bf298"/>
<polygon points="730.2,622.63 737.17,624.83 764.87,563.38 757.91,561.17" fill="#7bf298" stroke="#7bf298"/>
<polygon points="737.17,624.83 744.15,627.06 771.84,565.64 764.87,563.38" fill="#7af19a" stroke="#7af19a"/>
<polygon points="744.15,627.06 751.14,629.32 778.83,567.94 771.84,565.64" fill="#7af19a" stroke="#7af19a"/>
<polygon points="751.14,629.32 758.13,631.61 785.82,570.29 778.83,567.94" fill="#7af19a" stroke="#7af19a"/>
<polygon points="758.13,631.61 765.14,633.94 792.83,572.68 785.82,570.29" fill="#7af19a" stroke="#7af19a"/>
<polygon points="765.14,633.94 772.16,636.29 799.84,575.11 792.83,572.68" fill="#7af19a" stroke="#7af19a"/>
<polygon points="772.16,636.29 779.2,638.67 806.87,577.6 799.84,575.11" fill="#78f09d" stroke="#78f09d"/>
<polygon points="779.2,638.67 786.24,641.08 813.9,580.12 806.87,577.6" fill="#78f09d" stroke="#78f09d"/>
<polygon points="786.24,641.08 793.29,643.52 820.95,582.69 813.9,580.12" fill="#78f09d" stroke="#78f09d"/>
<polygon points="793.29,643.52 800.35,645.98 828.01,585.3 820.95,582.69" fill="#77efa0" stroke="#77efa0"/>
<polygon points="800.35,645.98 807.43,648.48 835.08,587.96 828.01,585.3" fill="#77efa0" stroke="#77efa0"/>
<polygon points="807.43,648.48 814.51,651.01 842.15,590.65 835.08,587.96" fill="#77efa0" stroke="#77efa0"/>
<polygon points="814.51,651.01 821.61,653.56 849.24,593.39 842.15,590.65" fill="#75eea2" stroke="#75eea2"/>
<polygon points="821.61,653.56 828.71,656.14 856.34,596.18 849.24,593.39" fill="#75eea2" stroke="#75eea2"/>
<polygon points="828.71,656.14 835.83,658.75 863.45,599 856.34,596.18" fill="#74eca5" stroke="#74eca5"/>
<polygon points="835.83,658.75 842.95,661.39 870.56,601.87 863.45,599" fill="#74eca5" stroke="#74eca5"/>
<polygon points="842.95,661.39 850.09,664.05 877.69,604.77 870.56,601.87" fill="#73eba7" stroke="#73eba7"/>
<polygon points="850.09,664.05 857.23,666.75 884.83,607.72 877.69,604.77" fill="#73eba7" stroke="#73eba7"/>
<polygon points="857.23,666.75 864.39,669.47 891.98,610.71 884.83,607.72" fill="#72eaaa" stroke="#72eaaa"/>
<polygon points="864.39,669.47 871.56,672.22 899.13,613.74 891.98,610.71" fill="#71e9ac" stroke="#71e9ac"/>
<polygon points="871.56,672.22 878.73,674.99 906.3,616.81 899.13,613.74" fill="#71e9ac" stroke="#71e9ac"/>
<polygon points="878.73,674.99 885.92,677.79 913.47,619.92 906.3,616.81" fill="#70e8ae" stroke="#70e8ae"/>
<polygon points="885.92,677.79 893.12,680.62 920.66,623.07 913.47,619.92" fill="#6fe6b1" stroke="#6fe6b1"/>
<polygon points="893.12,680.62 900.32,683.48 927.85,626.25 920.66,623.07" fill="#6fe6b1" stroke="#6fe6b1"/>
<polygon points="900.32,683.48 907.54,686.36 935.05,629.48 927.85,626.25" fill="#6ee5b3" stroke="#6ee5b3"/>
<polygon points="907.54,686.36 914.76,689.27 942.26,632.75 935.05,629.48" fill="#6de4b5" stroke="#6de4b5"/>
<polygon points="914.76,689.27 922,692.21 949.48,636.05 942.26,632.75" fill="#6de4b5" stroke="#6de4b5"/>
<polygon points="922,692.21 929.25,695.17 956.71,639.4 949.48,636.05" fill="#6ce3b7" stroke="#6ce3b7"/>
<polygon points="929.25,695.17 936.5,698.16 963.95,642.78 956.71,639.4" fill="#6be1b9" stroke="#6be1b9"/>
<polygon points="936.5,698.16 943.77,701.17 971.2,646.2 963.95,642.78" fill="#6ae0bb" stroke="#6ae0bb"/>
<polygon points="943.77,701.17 951.04,704.21 978.45,649.65 971.2,646.2" fill="#69debd" stroke="#69debd"/>
<polygon points="951.04,704.21 958.33,707.28 985.72,653.15 978.45,649.65" fill="#68ddbf" stroke="#68ddbf"/>
<polygon points="958.33,707.28 965.62,710.37 992.99,656.68 985.72,653.15" fill="#68dbc1" stroke="#68dbc1"/>
<polygon points="965.62,710.37 972.92,713.48 1000.27,660.25 992.99,656.68" fill="#67d9c3" stroke="#67d9c3"/>
<polygon points="972.92,713.48 980.24,716.63 1007.56,663.85 1000.27,660.25" fill="#66d8c5" stroke="#66d8c5"/>
<polygon points="980.24,716.63 987.56,719.79 1014.86,667.49 1007.56,663.85" fill="#66d8c5" stroke="#66d8c5"/>
<polygon points="987.56,719.79 994.89,722.99 1022.17,671.17 1014.86,667.49" fill="#65d6c7" stroke="#65d6c7"/>
<polygon points="994.89,722.99 1002.23,726.2 1029.48,674.88 1022.17,671.17" fill="#64d4ca" stroke="#64d4ca"/>
<polygon points="1002.23,726.2 1009.58,729.44 1036.8,678.62 1029.48,674.88" fill="#63d0ce" stroke="#63d0ce"/>
<polygon points="1009.58,729.44 1016.94,732.71 1044.13,682.4 1036.8,678.62" fill="#62ced1" stroke="#62ced1"/>
<polygon points="1016.94,732.71 1024.31,736 1051.47,686.22 1044.13,682.4" fill="#61ccd3" stroke="#61ccd3"/>
<polygon points="1024.31,736 1031.69,739.31 1058.82,690.07 1051.47,686.22" fill="#61cad5" stroke="#61cad5"/>
<polygon points="1031.69,739.31 1039.08,742.65 1066.17,693.95 1058.82,690.07" fill="#60c8d8" stroke="#60c8d8"/>
<polygon points="1039.08,742.65 1046.48,746.01 1073.54,697.87 1066.17,693.95" fill="#5fc6da" stroke="#5fc6da"/>
<polygon points="1046.48,746.01 1053.88,749.4 1080.91,701.82 1073.54,697.87" fill="#5fc4dc" stroke="#5fc4dc"/>
<polygon points="1053.88,749.4 1061.3,752.81 1088.28,705.8 1080.91,701.82" fill="#5ec2de" stroke="#5ec2de"/>
<polygon points="1061.3,752.81 1068.72,756.24 1095.67,709.81 1088.28,705.8" fill="#5dbde3" stroke="#5dbde3"/>
<polygon points="1068.72,756.24 1076.16,759.7 1103.06,713.86 1095.67,709.81" fill="#5cbbe5" stroke="#5cbbe5"/>
<polygon points="1076.16,759.7 1083.6,763.17 1110.46,717.94 1103.06,713.86" fill="#5cb9e7" stroke="#5cb9e7"/>
<polygon points="1083.6,763.17 1091.05,766.67 1117.87,722.05 1110.46,717.94" fill="#5bb7e9" stroke="#5bb7e9"/>
<polygon points="1091.05,766.67 1098.51,770.2 1125.28,726.19 1117.87,722.05" fill="#5bb2ec" stroke="#5bb2ec"/>
<polygon points="1098.51,770.2 1105.98,773.74 1132.71,730.36 1125.28,726.19" fill="#5aafee" stroke="#5aafee"/>
<polygon points="1105.98,773.74 1113.46,777.31 1140.14,734.56 1132.71,730.36" fill="#5aadef" stroke="#5aadef"/>
<polygon points="1113.46,777.31 1120.95,780.9 1147.57,738.79 1140.14,734.56" fill="#5aabf1" stroke="#5aabf1"/>
<polygon points="1120.95,780.9 1128.44,784.51 1155.02,743.05 1147.57,738.79" fill="#59a6f3" stroke="#59a6f3"/>
<polygon points="674.51,675.97 681.44,678.1 709.37,616.23 702.45,614.16" fill="#5ec2de" stroke="#5ec2de"/>
<polygon points="681.44,678.1 688.37,680.24 716.31,618.33 709.37,616.23" fill="#5ec2de" stroke="#5ec2de"/>
<polygon points="688.37,680.24 695.32,682.41 723.25,620.47 716.31,618.33" fill="#5dc0e0" stroke="#5dc0e0"/>
<polygon points="695.32,682.41 702.28,684.59 730.2,622.63 723.25,620.47" fill="#5dc0e0" stroke="#5dc0e0"/>
<polygon points="702.28,684.59 709.25,686.8 737.17,624.83 730.2,622.63" fill="#5dc0e0" stroke="#5dc0e0"/>
<polygon points="709.25,686.8 716.24,689.02 744.15,627.06 737.17,624.83" fill="#5dc0e0" stroke="#5dc0e0"/>
<polygon points="716.24,689.02 723.23,691.26 751.14,629.32 744.15,627.06" fill="#5dc0e0" stroke="#5dc0e0"/>
<polygon points="723.23,691.26 730.23,693.52 758.13,631.61 751.14,629.32" fill="#5dc0e0" stroke="#5dc0e0"/>
<polygon points="730.23,693.52 737.25,695.8 765.14,633.94 758.13,631.61" fill="#5dc0e0" stroke="#5dc0e0"/>
<polygon points="737.25,695.8 744.27,698.1 772.16,636.29 765.14,633.94" fill="#5dc0e0" stroke="#5dc0e0"/>
<polygon points="744.27,698.1 751.31,700.42 779.2,638.67 772.16,636.29" fill="#5dc0e0" stroke="#5dc0e0"/>
<polygon points="751.31,700.42 758.35,702.75 786.24,641.08 779.2,638.67" fill="#5dbde3" stroke="#5dbde3"/>
<polygon points="758.35,702.75 765.41,705.1 793.29,643.52 786.24,641.08" fill="#5dbde3" stroke="#5dbde3"/>
<polygon points="765.41,705.1 772.48,707.47 800.35,645.98 793.29,643.52" fill="#5dbde3" stroke="#5dbde3"/>
<polygon points="772.48,707.47 779.56,709.86 807.43,648.48 800.35,645.98" fill="#5dbde3" stroke="#5dbde3"/>
<polygon points="779.56,709.86 786.65,712.26 814.51,651.01 807.43,648.48" fill="#5dbde3" stroke="#5dbde3"/>
<polygon points="786.65,712.26 793.75,714.68 821.61,653.56 814.51,651.01" fill="#5cbbe5" stroke="#5cbbe5"/>
<polygon points="793.75,714.68 800.86,717.12 828.71,656.14 821.61,653.56" fill="#5cbbe5" stroke="#5cbbe5"/>
<polygon points="800.86,717.12 807.98,719.58 835.83,658.75 828.71,656.14" fill="#5cbbe5" stroke="#5cbbe5"/>
<polygon points="807.98,719.58 815.11,722.05 842.95,661.39 835.83,658.75" fill="#5cb9e7" stroke="#5cb9e7"/>
<polygon points="815.11,722.05 822.26,724.54 850.09,664.05 842.95,661.39" fill="#5cb9e7" stroke="#5cb9e7"/>
<polygon points="822.26,724.54 829.41,727.05 857.23,666.75 850.09,664.05" fill="#5cb9e7" stroke="#5cb9e7"/>
<polygon points="829.41,727.05 836.57,729.58 864.39,669.47 857.23,666.75" fill="#5bb7e9" stroke="#5bb7e9"/>
<polygon points="836.57,729.58 843.75,732.12 871.56,672.22 864.39,669.47" fill="#5bb7e9" stroke="#5bb7e9"/>
<polygon points="843.75,732.12 850.93,734.68 878.73,674.99 871.56,672.22" fill="#5bb7e9" stroke="#5bb7e9"/>
<polygon points="850.93,734.68 858.13,737.26 885.92,677.79 878.73,674.99" fill="#5bb4ea" stroke="#5bb4ea"/>
<polygon points="858.13,737.26 865.33,739.85 893.12,680.62 885.92,677.79" fill="#5bb4ea" stroke="#5bb4ea"/>
<polygon points="865.33,739.85 872.55,742.46 900.32,683.48 893.12,680.62" fill="#5bb2ec" stroke="#5bb2ec"/>
<polygon points="872.55,742.46 879.78,745.09 907.54,686.36 900.32,683.48" fill="#5bb2ec" stroke="#5bb2ec"/>
<polygon points="879.78,745.09 887.01,747.73 914.76,689.27 907.54,686.36" fill="#5aafee" stroke="#5aafee"/>
<polygon points="887.01,747.73 894.26,750.39 922,692.21 914.76,689.27" fill="#5aafee" stroke="#5aafee"/>
<polygon points="894.26,750.39 901.52,753.07 929.25,695.17 922,692.21" fill="#5aadef" stroke="#5aadef"/>
<polygon points="901.52,753.07 908.79,755.76 936.5,698.16 929.25,695.17" fill="#5aadef" stroke="#5aadef"/>
<polygon points="908.79,755.76 916.07,758.47 943.77,701.17 936.5,698.16" fill="#5aabf1" stroke="#5aabf1"/>
<polygon points="916.07,758.47 923.36,761.19 951.04,704.21 943.77,701.17" fill="#5aabf1" stroke="#5aabf1"/>
<polygon points="923.36,761.19 930.66,763.94 958.33,707.28 951.04,704.21" fill="#59a8f2" stroke="#59a8f2"/>
<polygon points="930.66,763.94 937.97,766.7 965.62,710.37 958.33,707.28" fill="#59a8f2" stroke="#59a8f2"/>
<polygon points="937.97,766.7 945.29,769.47 972.92,713.48 965.62,710.37" fill="#59a6f3" stroke="#59a6f3"/>
<polygon points="945.29,769.47 952.62,772.26 980.24,716.63 972.92,713.48" fill="#59a6f3" stroke="#59a6f3"/>
<polygon points="952.62,772.26 959.96,775.07 987.56,719.79 980.24,716.63" fill="#59a3f4" stroke="#59a3f4"/>
<polygon points="959.96,775.07 967.32,777.89 994.89,722.99 987.56,719.79" fill="#59a1f5" stroke="#59a1f5"/>
<polygon points="967.32,777.89 974.68,780.73 1002.23,726.2 994.89,722.99" fill="#59a1f5" stroke="#59a1f5"/>
<polygon points="974.68,780.73 982.05,783.59 1009.58,729.44 1002.23,726.2" fill="#599ef6" stroke="#599ef6"/>
<polygon points="982.05,783.59 989.43,786.46 1016.94,732.71 1009.58,729.44" fill="#599ef6" stroke="#599ef6"/>
<polygon points="989.43,786.46 996.83,789.34 1024.31,736 1016.94,732.71" fill="#599cf6" stroke="#599cf6"/>
<polygon points="996.83,789.34 1004.23,792.25 1031.69,739.31 1024.31,736" fill="#5899f7" stroke="#5899f7"/>
<polygon points="1004.23,792.25 1011.65,795.16 1039.08,742.65 1031.69,739.31" fill="#5897f7" stroke="#5897f7"/>
<polygon points="1011.65,795.16 1019.07,798.1 1046.48,746.01 1039.08,742.65" fill="#5897f7" stroke="#5897f7"/>
<polygon points="1019.07,798.1 1026.5,801.05 1053.88,749.4 1046.48,746.01" fill="#5894f7" stroke="#5894f7"/>
<polygon points="1026.5,801.05 1033.95,804.01 1061.3,752.81 1053.88,749.4" fill="#5892f7" stroke="#5892f7"/>
<polygon points="1033.95,804.01 1041.4,806.99 1068.72,756.24 1061.3,752.81" fill="#5892f7" stroke="#5892f7"/>
<polygon points="1041.4,806.99 1048.87,809.99 1076.16,759.7 1068.72,756.24" fill="#588ff7" stroke="#588ff7"/>
<polygon points="1048.87,809.99 1056.34,813 1083.6,763.17 1076.16,759.7" fill="#578df6" stroke="#578df6"/>
<polygon points="1056.34,813 1063.83,816.02 1091.05,766.67 1083.6,763.17" fill="#578bf5" stroke="#578bf5"/>
<polygon points="1063.83,816.02 1071.33,819.06 1098.51,770.2 1091.05,766.67" fill="#578bf5" stroke="#578bf5"/>
<polygon points="1071.33,819.06 1078.83,822.12 1105.98,773.74 1098.51,770.2" fill="#5688f4" stroke="#5688f4"/>
<polygon points="1078.83,822.12 1086.35,825.19 1113.46,777.31 1105.98,773.74" fill="#5686f3" stroke="#5686f3"/>
<polygon points="1086.35,825.19 1093.88,828.28 1120.95,780.9 1113.46,777.31" fill="#5583f2" stroke="#5583f2"/>
<polygon points="1093.88,828.28 1101.41,831.38 1128.44,784.51 1120.95,780.9" fill="#5581f0" stroke="#5581f0"/>
<polygon points="646.35,738.25 653.28,740.44 681.44,678.1 674.51,675.97" fill="#5174e6" stroke="#5174e6"/>
<polygon points="653.28,740.44 660.22,742.63 688.37,680.24 681.44,678.1" fill="#5174e6" stroke="#5174e6"/>
<polygon points="660.22,742.63 667.18,744.84 695.32,682.41 688.37,680.24" fill="#5174e6" stroke="#5174e6"/>
<polygon points="667.18,744.84 674.14,747.05 702.28,684.59 695.32,682.41" fill="#5174e6" stroke="#5174e6"/>
<polygon points="674.14,747.05 681.12,749.28 709.25,686.8 702.28,684.59" fill="#5174e6" stroke="#5174e6"/>
<polygon points="681.12,749.28 688.11,751.51 716.24,689.02 709.25,686.8" fill="#5174e6" stroke="#5174e6"/>
<polygon points="688.11,751.51 695.1,753.76 723.23,691.26 716.24,689.02" fill="#5174e6" stroke="#5174e6"/>
<polygon points="695.1,753.76 702.11,756.01 730.23,693.52 723.23,691.26" fill="#5174e6" stroke="#5174e6"/>
<polygon points="702.11,756.01 709.13,758.28 737.25,695.8 730.23,693.52" fill="#5174e6" stroke="#5174e6"/>
<polygon points="709.13,758.28 716.16,760.56 744.27,698.1 737.25,695.8" fill="#5174e6" stroke="#5174e6"/>
<polygon points="716.16,760.56 723.2,762.84 751.31,700.42 744.27,698.1" fill="#5174e6" stroke="#5174e6"/>
<polygon points="723.2,762.84 730.25,765.14 758.35,702.75 751.31,700.42" fill="#5174e6" stroke="#5174e6"/>
<polygon points="730.25,765.14 737.31,767.45 765.41,705.1 758.35,702.75" fill="#5174e6" stroke="#5174e6"/>
<polygon points="737.31,767.45 744.39,769.76 772.48,707.47 765.41,705.1" fill="#5172e4" stroke="#5172e4"/>
<polygon points="744.39,769.76 751.47,772.09 779.56,709.86 772.48,707.47" fill="#5172e4" stroke="#5172e4"/>
<polygon points="751.47,772.09 758.57,774.42 786.65,712.26 779.56,709.86" fill="#5172e4" stroke="#5172e4"/>
<polygon points="758.57,774.42 765.67,776.77 793.75,714.68 786.65,712.26" fill="#5172e4" stroke="#5172e4"/>
<polygon points="765.67,776.77 772.79,779.12 800.86,717.12 793.75,714.68" fill="#5172e4" stroke="#5172e4"/>
<polygon points="772.79,779.12 779.91,781.49 807.98,719.58 800.86,717.12" fill="#5172e4" stroke="#5172e4"/>
<polygon points="779.91,781.49 787.05,783.86 815.11,722.05 807.98,719.58" fill="#5172e4" stroke="#5172e4"/>
<polygon points="787.05,783.86 794.2,786.24 822.26,724.54 815.11,722.05" fill="#506fe1" stroke="#506fe1"/>
<polygon points="794.2,786.24 801.36,788.64 829.41,727.05 822.26,724.54" fill="#506fe1" stroke="#506fe1"/>
<polygon points="801.36,788.64 808.53,791.04 836.57,729.58 829.41,727.05" fill="#506fe1" stroke="#506fe1"/>
<polygon points="808.53,791.04 815.71,793.45 843.75,732.12 836.57,729.58" fill="#506fe1" stroke="#506fe1"/>
<polygon points="815.71,793.45 822.9,795.88 850.93,734.68 843.75,732.12" fill="#506fe1" stroke="#506fe1"/>
<polygon points="822.9,795.88 830.11,798.31 858.13,737.26 850.93,734.68" fill="#4f6dde" stroke="#4f6dde"/>
<polygon points="830.11,798.31 837.32,800.75 865.33,739.85 858.13,737.26" fill="#4f6dde" stroke="#4f6dde"/>
<polygon points="837.32,800.75 844.54,803.2 872.55,742.46 865.33,739.85" fill="#4f6dde" stroke="#4f6dde"/>
<polygon points="844.54,803.2 851.78,805.66 879.78,745.09 872.55,742.46" fill="#4f6dde" stroke="#4f6dde"/>
<polygon points="851.78,805.66 859.03,808.13 887.01,747.73 879.78,745.09" fill="#4f6dde" stroke="#4f6dde"/>
<polygon points="859.03,808.13 866.28,810.61 894.26,750.39 887.01,747.73" fill="#4f6adc" stroke="#4f6adc"/>
<polygon points="866.28,810.61 873.55,813.1 901.52,753.07 894.26,750.39" fill="#4f6adc" stroke="#4f6adc"/>
<polygon points="873.55,813.1 880.83,815.6 908.79,755.76 901.52,753.07" fill="#4f6adc" stroke="#4f6adc"/>
<polygon points="880.83,815.6 888.12,818.1 916.07,758.47 908.79,755.76" fill="#4e68d9" stroke="#4e68d9"/>
<polygon points="888.12,818.1 895.42,820.62 923.36,761.19 916.07,758.47" fill="#4e68d9" stroke="#4e68d9"/>
<polygon points="895.42,820.62 902.73,823.15 930.66,763.94 923.36,761.19" fill="#4e68d9" stroke="#4e68d9"/>
<polygon points="902.73,823.15 910.06,825.68 937.97,766.7 930.66,763.94" fill="#4e68d9" stroke="#4e68d9"/>
<polygon points="910.06,825.68 917.39,828.23 945.29,769.47 937.97,766.7" fill="#4d65d6" stroke="#4d65d6"/>
<polygon points="917.39,828.23 924.74,830.78 952.62,772.26 945.29,769.47" fill="#4d65d6" stroke="#4d65d6"/>
<polygon points="924.74,830.78 932.09,833.35 959.96,775.07 952.62,772.26" fill="#4d65d6" stroke="#4d65d6"/>
<polygon points="932.09,833.35 939.46,835.92 967.32,777.89 959.96,775.07" fill="#4c63d2" stroke="#4c63d2"/>
<polygon points="939.46,835.92 946.84,838.5 974.68,780.73 967.32,777.89" fill="#4c63d2" stroke="#4c63d2"/>
<polygon points="946.84,838.5 954.23,841.09 982.05,783.59 974.68,780.73" fill="#4c63d2" stroke="#4c63d2"/>
<polygon points="954.23,841.09 961.63,843.7 989.43,786.46 982.05,783.59" fill="#4b60cf" stroke="#4b60cf"/>
<polygon points="961.63,843.7 969.04,846.31 996.83,789.34 989.43,786.46" fill="#4b60cf" stroke="#4b60cf"/>
<polygon points="969.04,846.31 976.46,848.93 1004.23,792.25 996.83,789.34" fill="#4b60cf" stroke="#4b60cf"/>
<polygon points="976.46,848.93 983.89,851.56 1011.65,795.16 1004.23,792.25" fill="#4b5ecc" stroke="#4b5ecc"/>
<polygon points="983.89,851.56 991.34,854.19 1019.07,798.1 1011.65,795.16" fill="#4b5ecc" stroke="#4b5ecc"/>
<polygon points="991.34,854.19 998.79,856.84 1026.5,801.05 1019.07,798.1" fill="#4b5ecc" stroke="#4b5ecc"/>
<polygon points="998.79,856.84 1006.26,859.5 1033.95,804.01 1026.5,801.05" fill="#4a5bc8" stroke="#4a5bc8"/>
<polygon points="1006.26,859.5 1013.74,862.17 1041.4,806.99 1033.95,804.01" fill="#4a5bc8" stroke="#4a5bc8"/>
<polygon points="1013.74,862.17 1021.23,864.84 1048.87,809.99 1041.4,806.99" fill="#4958c4" stroke="#4958c4"/>
<polygon points="1021.23,864.84 1028.73,867.53 1056.34,813 1048.87,809.99" fill="#4958c4" stroke="#4958c4"/>
<polygon points="1028.73,867.53 1036.24,870.22 1063.83,816.02 1056.34,813" fill="#4958c4" stroke="#4958c4"/>
<polygon points="1036.24,870.22 1043.76,872.92 1071.33,819.06 1063.83,816.02" fill="#4856c0" stroke="#4856c0"/>
<polygon points="1043.76,872.92 1051.29,875.63 1078.83,822.12 1071.33,819.06" fill="#4856c0" stroke="#4856c0"/>
<polygon points="1051.29,875.63 1058.84,878.36 1086.35,825.19 1078.83,822.12" fill="#4753bc" stroke="#4753bc"/>
<polygon points="1058.84,878.36 1066.39,881.09 1093.88,828.28 1086.35,825.19" fill="#4753bc" stroke="#4753bc"/>
<polygon points="1066.39,881.09 1073.96,883.83 1101.41,831.38 1093.88,828.28" fill="#4650b8" stroke="#4650b8"/>
<polygon points="617.97,801.02 624.91,803.27 653.28,740.44 646.35,738.25" fill="#33225c" stroke="#33225c"/>
<polygon points="624.91,803.27 631.86,805.51 660.22,742.63 653.28,740.44" fill="#33225c" stroke="#33225c"/>
<polygon points="631.86,805.51 638.81,807.76 667.18,744.84 660.22,742.63" fill="#33225c" stroke="#33225c"/>
<polygon points="638.81,807.76 645.79,810.02 674.14,747.05 667.18,744.84" fill="#33225c" stroke="#33225c"/>
<polygon points="645.79,810.02 652.77,812.28 681.12,749.28 674.14,747.05" fill="#33225c" stroke="#33225c"/>
<polygon points="652.77,812.28 659.76,814.55 688.11,751.51 681.12,749.28" fill="#33225c" stroke="#33225c"/>
<polygon points="659.76,814.55 666.76,816.82 695.1,753.76 688.11,751.51" fill="#33225c" stroke="#33225c"/>
<polygon points="666.76,816.82 673.77,819.09 702.11,756.01 695.1,753.76" fill="#33225c" stroke="#33225c"/>
<polygon points="673.77,819.09 680.8,821.38 709.13,758.28 702.11,756.01" fill="#33225c" stroke="#33225c"/>
<polygon points="680.8,821.38 687.83,823.66 716.16,760.56 709.13,758.28" fill="#33225c" stroke="#33225c"/>
<polygon points="687.83,823.66 694.88,825.96 723.2,762.84 716.16,760.56" fill="#33225c" stroke="#33225c"/>
<polygon points="694.88,825.96 701.93,828.25 730.25,765.14 723.2,762.84" fill="#33225c" stroke="#33225c"/>
<polygon points="701.93,828.25 709,830.56 737.31,767.45 730.25,765.14" fill="#33225c" stroke="#33225c"/>
<polygon points="709,830.56 716.08,832.86 744.39,769.76 737.31,767.45" fill="#33225c" stroke="#33225c"/>
<polygon points="716.08,832.86 723.17,835.18 751.47,772.09 744.39,769.76" fill="#33225c" stroke="#33225c"/>
<polygon points="723.17,835.18 730.27,837.49 758.57,774.42 751.47,772.09" fill="#321f55" stroke="#321f55"/>
<polygon points="730.27,837.49 737.38,839.82 765.67,776.77 758.57,774.42" fill="#321f55" stroke="#321f55"/>
<polygon points="737.38,839.82 744.5,842.14 772.79,779.12 765.67,776.77" fill="#321f55" stroke="#321f55"/>
<polygon points="744.5,842.14 751.63,844.48 779.91,781.49 772.79,779.12" fill="#321f55" stroke="#321f55"/>
<polygon points="751.63,844.48 758.77,846.82 787.05,783.86 779.91,781.49" fill="#321f55" stroke="#321f55"/>
<polygon points="758.77,846.82 765.93,849.16 794.2,786.24 787.05,783.86" fill="#321f55" stroke="#321f55"/>
<polygon points="765.93,849.16 773.09,851.51 801.36,788.64 794.2,786.24" fill="#321f55" stroke="#321f55"/>
<polygon points="773.09,851.51 780.27,853.86 808.53,791.04 801.36,788.64" fill="#321f55" stroke="#321f55"/>
<polygon points="780.27,853.86 787.46,856.22 815.71,793.45 808.53,791.04" fill="#321f55" stroke="#321f55"/>
<polygon points="787.46,856.22 794.65,858.58 822.9,795.88 815.71,793.45" fill="#321f55" stroke="#321f55"/>
<polygon points="794.65,858.58 801.86,860.95 830.11,798.31 822.9,795.88" fill="#321f55" stroke="#321f55"/>
<polygon points="801.86,860.95 809.08,863.32 837.32,800.75 830.11,798.31" fill="#321f55" stroke="#321f55"/>
<polygon points="809.08,863.32 816.32,865.7 844.54,803.2 837.32,800.75" fill="#321f55" stroke="#321f55"/>
<polygon points="816.32,865.7 823.56,868.09 851.78,805.66 844.54,803.2" fill="#321f55" stroke="#321f55"/>
<polygon points="823.56,868.09 830.81,870.48 859.03,808.13 851.78,805.66" fill="#311c4e" stroke="#311c4e"/>
<polygon points="830.81,870.48 838.08,872.87 866.28,810.61 859.03,808.13" fill="#311c4e" stroke="#311c4e"/>
<polygon points="838.08,872.87 845.35,875.27 873.55,813.1 866.28,810.61" fill="#311c4e" stroke="#311c4e"/>
<polygon points="845.35,875.27 852.64,877.68 880.83,815.6 873.55,813.1" fill="#311c4e" stroke="#311c4e"/>
<polygon points="852.64,877.68 859.94,880.09 888.12,818.1 880.83,815.6" fill="#311c4e" stroke="#311c4e"/>
<polygon points="859.94,880.09 867.25,882.5 895.42,820.62 888.12,818.1" fill="#311c4e" stroke="#311c4e"/>
<polygon points="867.25,882.5 874.57,884.92 902.73,823.15 895.42,820.62" fill="#311c4e" stroke="#311c4e"/>
<polygon points="874.57,884.92 881.9,887.35 910.06,825.68 902.73,823.15" fill="#311c4e" stroke="#311c4e"/>
<polygon points="881.9,887.35 889.25,889.78 917.39,828.23 910.06,825.68" fill="#311c4e" stroke="#311c4e"/>
<polygon points="889.25,889.78 896.6,892.21 924.74,830.78 917.39,828.23" fill="#2f1a47" stroke="#2f1a47"/>
<polygon points="896.6,892.21 903.97,894.65 932.09,833.35 924.74,830.78" fill="#2f1a47" stroke="#2f1a47"/>
<polygon points="903.97,894.65 911.35,897.1 939.46,835.92 932.09,833.35" fill="#2f1a47" stroke="#2f1a47"/>
<polygon points="911.35,897.1 918.74,899.55 946.84,838.5 939.46,835.92" fill="#2f1a47" stroke="#2f1a47"/>
<polygon points="918.74,899.55 926.14,902.01 954.23,841.09 946.84,838.5" fill="#2f1a47" stroke="#2f1a47"/>
<polygon points="926.14,902.01 933.55,904.47 961.63,843.7 954.23,841.09" fill="#2f1a47" stroke="#2f1a47"/>
<polygon points="933.55,904.47 940.97,906.94 969.04,846.31 961.63,843.7" fill="#2f1a47" stroke="#2f1a47"/>
<polygon points="940.97,906.94 948.41,909.41 976.46,848.93 969.04,846.31" fill="#2f1a47" stroke="#2f1a47"/>
<polygon points="948.41,909.41 955.86,911.89 983.89,851.56 976.46,848.93" fill="#2e1740" stroke="#2e1740"/>
<polygon points="955.86,911.89 963.32,914.37 991.34,854.19 983.89,851.56" fill="#2e1740" stroke="#2e1740"/>
<polygon points="963.32,914.37 970.79,916.86 998.79,856.84 991.34,854.19" fill="#2e1740" stroke="#2e1740"/>
<polygon points="970.79,916.86 978.27,919.35 1006.26,859.5 998.79,856.84" fill="#2e1740" stroke="#2e1740"/>
<polygon points="978.27,919.35 985.76,921.85 1013.74,862.17 1006.26,859.5" fill="#2e1740" stroke="#2e1740"/>
<polygon points="985.76,921.85 993.27,924.35 1021.23,864.84 1013.74,862.17" fill="#2e1740" stroke="#2e1740"/>
<polygon points="993.27,924.35 1000.78,926.86 1028.73,867.53 1021.23,864.84" fill="#2e1740" stroke="#2e1740"/>
<polygon points="1000.78,926.86 1008.31,929.38 1036.24,870.22 1028.73,867.53" fill="#2d1439" stroke="#2d1439"/>
<polygon points="1008.31,929.38 1015.85,931.89 1043.76,872.92 1036.24,870.22" fill="#2d1439" stroke="#2d1439"/>
<polygon points="1015.85,931.89 1023.4,934.42 1051.29,875.63 1043.76,872.92" fill="#2d1439" stroke="#2d1439"/>
<polygon points="1023.4,934.42 1030.97,936.95 1058.84,878.36 1051.29,875.63" fill="#2d1439" stroke="#2d1439"/>
<polygon points="1030.97,936.95 1038.54,939.49 1066.39,881.09 1058.84,878.36" fill="#2d1439" stroke="#2d1439"/>
<polygon points="1038.54,939.49 1046.13,942.03 1073.96,883.83 1066.39,881.09" fill="#2d1439" stroke="#2d1439"/></g>
</svg></body></html>
